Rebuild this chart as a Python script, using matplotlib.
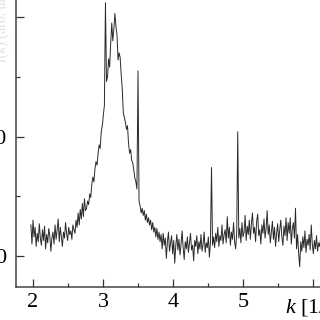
import numpy as np
import matplotlib.pyplot as plt

plt.rcParams['font.family'] = ['Liberation Serif', 'DejaVu Serif']
plt.rcParams['mathtext.fontset'] = 'custom'
plt.rcParams['mathtext.it'] = 'Liberation Serif:italic'
plt.rcParams['mathtext.rm'] = 'Liberation Serif'

base_left = [2.6, 1.0, 3.0, 1.6, 2.4, 0.8, 1.9, 1.2, 2.7, 1.5, 0.9, 2.2, 1.3, 2.5, 0.6,
             1.8, 1.1, 2.3, 1.7, 0.4, 1.5, 2.0, 1.0, 2.6, 1.4, 2.2, 3.1, 1.2, 2.4, 1.6,
             0.8, 2.0, 1.5, 2.8, 1.9, 1.3, 2.4, 1.8, 2.1, 1.4, 2.6, 2.2]
shoulder = [1.9, 3.0, 2.4, 3.6, 2.6, 3.9, 3.1, 4.4, 3.3, 4.8, 3.8]
rise = [4.0, 4.6, 4.3, 5.2, 4.9, 6.0, 6.6, 6.2, 7.3, 7.9, 7.6, 8.6, 9.3, 9.0, 10.4,
        10.9, 11.8, 12.6]
spike1 = [21.2]
peak = [14.6, 15.0, 16.5, 15.8, 17.8, 19.5, 18.0, 19.0, 20.3, 19.2, 18.5, 16.4, 17.0,
        16.6, 15.2, 14.0, 12.0, 11.6, 11.2, 10.6, 10.9, 9.4, 8.6, 8.9, 8.0, 7.8, 7.2,
        6.5, 6.2, 5.6]
spike2 = [15.5]
tail = [4.6, 4.2, 3.6, 4.0, 3.4, 3.8, 3.0, 3.5, 2.8, 3.2, 2.6, 3.0, 2.2, 2.8, 2.0, 2.4,
        1.6, 2.3, 1.4, 2.0, 1.2, 1.8]
base_mid = [0.6, 1.9, 0.9, 1.5, -0.2, 1.2, 2.0, 0.4, 1.1, 1.7, 0.2, 1.3, -0.6, 0.9, 1.8,
            0.5, 1.4, 0.1, 1.0, 2.1, 0.7, -0.3, 1.2, 0.6, 1.6, 0.3, 1.1, 1.9, 0.5, 0.9,
            -0.4, 1.3, 0.8, 1.7, 0.2, 1.2, 0.6, 1.8, 0.4, 1.0, 2.0, 0.3, 1.1, 0.7, 1.6,
            -0.1, 1.2]
spike3 = [7.4]
base_mid2 = [0.9, 1.6, 0.7, 1.9, 1.2, 2.4, 0.8, 1.7, 1.3, 2.6, 1.0, 1.8, 2.2, 1.1, 3.3,
             1.5, 2.4, 0.9, 2.0, 1.4, 2.8, 1.2, 0.6, 1.9]
spike4 = [10.4]
base_right = [1.5, 2.3, 1.1, 2.8, 1.6, 2.0, 3.4, 1.3, 2.5, 1.8, 3.0, 1.4,
              2.7, 3.6, 1.9, 2.4, 1.2, 2.9, 3.5, 1.7, 2.2, 1.0, 2.6, 1.9,
              3.1, 1.5, 2.3, 3.8, 1.8, 2.6, 1.1, 2.0, 2.9, 1.4, 2.4, 0.8,
              1.9, 2.7, 1.2, 2.2, 3.0, 1.6, 0.9, 2.5, 1.7, 3.2, 1.3, 2.8,
              1.9, 3.2, 1.0, 2.3, 2.8, 1.5, 4.0, 0.6, 1.8, 0.2, -0.9, 1.2,
              0.4, 1.6, 0.7, 2.1, 0.3, 1.4, 0.9, 1.8, 0.5, 2.6, 1.0, 0.2,
              1.3, 0.6, 1.7, 0.4, 1.1, 0.8, 1.5, 0.5, 1.2, 0.9, 1.4, 0.7, 1.0]

intensity = np.array(base_left + shoulder + rise + spike1 + peak + spike2 + tail
                     + base_mid + spike3 + base_mid2 + spike4 + base_right)
k = 1.97 + 0.015 * np.arange(len(intensity))

x_ticks = [2, 3, 4, 5, 6]
x_labels = ['2', '3', '4', '5', '']
y_ticks = [0, 10, 20]
y_labels = ['0', '10', '']

fig = plt.figure(figsize=(3.2, 3.2), dpi=100)
# axes run past the right and top edges: the reference is a crop
ax = fig.add_axes([16/320, 33/320, 384/320, 327/320])
ax.plot(k, intensity, color='#2a2a2a', lw=0.7)

ax.set_xlim(2 - 17/70, 2 + 367/70)
ax.set_ylim(-31/11.95, 296/11.95)
ax.set_xticks(x_ticks)
ax.set_xticklabels(x_labels)
ax.set_xticks([2.5, 3.5, 4.5, 5.5], minor=True)
ax.set_yticks(y_ticks)
ax.set_yticklabels(y_labels)
ax.set_yticks([5, 15], minor=True)
ax.tick_params(which='both', direction='in', labelsize=16, color='#333333')
ax.tick_params(which='major', length=6, width=0.9)
ax.tick_params(which='minor', length=3, width=0.9)
ax.tick_params(axis='y', pad=7)
ax.tick_params(axis='x', pad=4)
for s in ['right', 'top']:
    ax.spines[s].set_visible(False)
for s in ['left', 'bottom']:
    ax.spines[s].set_color('#444444')
    ax.spines[s].set_linewidth(1.1)

fig.text(285/320, 1 - 306/320, r'$k$ [1/Å]', fontsize=16, va='center', ha='left')
fig.text(2/320, 1 - 62/320, 'I(k) (arb. units)', rotation=90, fontsize=10,
         color='#e0e0e0', ha='center', va='bottom')

fig.savefig('out.png', dpi=100)
